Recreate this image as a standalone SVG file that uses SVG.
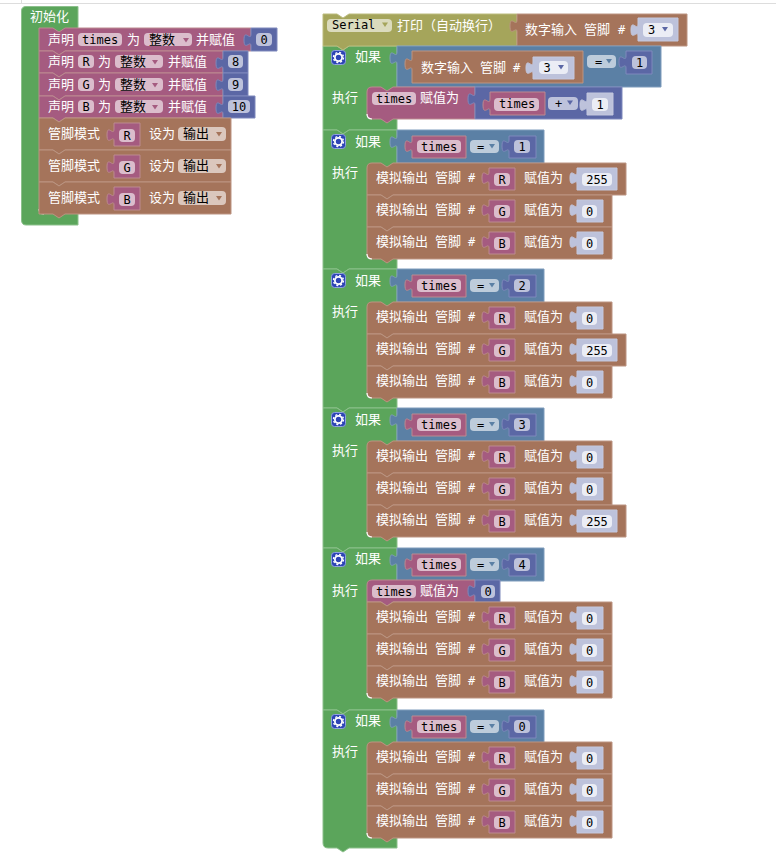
<svg xmlns="http://www.w3.org/2000/svg" width="776" height="868" viewBox="0 0 776 868">
<style>
text{font-family:"Noto Sans CJK SC","Liberation Sans",sans-serif;font-size:13px;fill:#fff}
.m{font-family:"DejaVu Sans Mono","Liberation Mono",monospace;font-size:12px}
.k{fill:#000}
.c{text-anchor:middle}
.gr{fill:#5BA55B;stroke:#8CC08C;stroke-width:1}
.br{fill:#A5745B;stroke:#BC9482;stroke-width:1}
.mg{fill:#A55B80;stroke:#BC8A90;stroke-width:1}
.in{fill:#5B67A5;stroke:#7F89BC;stroke-width:1}
.bl{fill:#5B80A5;stroke:#7F9CBC;stroke-width:1}
.ol{fill:#A5A55B;stroke:#BCBC7F;stroke-width:1}
.pa{fill:#BDC2DB;stroke:#C4C8DE;stroke-width:1}
.fm{fill:#DBBDCC}.fb{fill:#DBC7BD}.fi{fill:#BDC2DB}.fl{fill:#BDCCDB}.fo{fill:#DBDBBD}.fw{fill:#EBEDF5}
.ab{fill:#A5745B}.am{fill:#A55B80}.ai{fill:#5B67A5}.al{fill:#5B80A5}.ao{fill:#A5A55B}
.hl{fill:none;stroke:#fff;stroke-width:1.2}
</style>
<defs>
<path id="aw" class="br" d="M0,0H14L20,4L26,0H245V32H26L20,36L14,32H0Z"/>
<path id="awW" class="br" d="M0,0H14L20,4L26,0H259V32H26L20,36L14,32H0Z"/>
<path id="awF" class="br" d="M0,5Q0,0 5,0H14L20,4L26,0H245V32H26L20,36L14,32H0Z"/>
<path id="awFW" class="br" d="M0,5Q0,0 5,0H14L20,4L26,0H259V32H26L20,36L14,32H0Z"/>
<g id="awL"><path class="br" d="M0,0H14L20,4L26,0H245V32H26L20,36L14,32H5Q0,32 0,27Z"/><path class="hl" d="M0,27Q0,32 5,32"/></g>
<g id="awLW"><path class="br" d="M0,0H14L20,4L26,0H259V32H26L20,36L14,32H5Q0,32 0,27Z"/><path class="hl" d="M0,27Q0,32 5,32"/></g>
<g id="pin"><path class="mg" d="M122,5H148V27H122V21c0,-7 -7,6 -7,-6s7,2 7,-6Z"/><rect class="fm" x="127" y="10" width="16" height="13" rx="4"/></g>
<g id="val"><path class="pa" d="M210,5H236V27H210V21c0,-7 -7,6 -7,-6s7,2 7,-6Z"/><rect class="fw" x="215" y="10" width="15" height="13" rx="4"/></g>
<g id="val255"><path class="pa" d="M210,5H250V27H210V21c0,-7 -7,6 -7,-6s7,2 7,-6Z"/><rect class="fw" x="215" y="10" width="30" height="13" rx="4"/></g>
<g id="mode"><path class="br" d="M0,0H14L20,4L26,0H192V32H26L20,36L14,32H0Z"/><path class="mg" d="M75,5H101V28H75V23c0,-7 -7,6 -7,-6s7,2 7,-6Z"/><rect class="fm" x="80" y="11" width="16" height="13" rx="4"/><rect class="fb" x="139" y="9" width="48" height="14" rx="4"/><polygon class="ab" points="177,14 183,14 180,18.500"/></g>
<g id="cond"><path class="bl" d="M0,0H147V33H0V18c0,-7 -7,6 -7,-6s7,2 7,-6Z"/><path class="mg" d="M15,6H69V28H15V22c0,-7 -7,6 -7,-6s7,2 7,-6Z"/><rect class="fm" x="20" y="10" width="44" height="13" rx="4"/><rect class="fl" x="73" y="10" width="29" height="13" rx="4"/><polygon class="al" points="92,14 98,14 95,18.500"/><path class="in" d="M112,6H139V28H112V22c0,-7 -7,6 -7,-6s7,2 7,-6Z"/><rect class="fi" x="117" y="10" width="16" height="13" rx="4"/></g>
<g id="gear"><rect x="0.500" y="0.500" width="14" height="14" rx="3" fill="#2D44B5" stroke="#8FA0DD"/><circle cx="7.500" cy="7.500" r="3.600" fill="none" stroke="#fff" stroke-width="1.800"/><circle cx="7.500" cy="7.500" r="5" fill="none" stroke="#fff" stroke-width="1.400" stroke-dasharray="2 1.930"/></g>
</defs>

<g id="page-edge"><path d="M0,3.500H776M21.500,0V3" fill="none" stroke="#DDD"/></g>

<g id="connectors"></g>

<g id="setup">
<path class="gr" d="M26,6.500H78V225H26Q21.500,225 21.500,220V11Q21.500,6.500 26,6.500Z"/>
<text x="30" y="21">初始化</text>
<path class="hl" d="M39,209Q39,214 44,214"/>
</g>
<g id="decl-times">
<path class="mg" d="M39,28H53L59,32L65,28H251V51H65L59,55L53,51H39Z"/>
<text x="48" y="44">声明</text><rect class="fm" x="78" y="33" width="44" height="13" rx="4"/><text class="m k" x="82" y="44">times</text>
<text x="127" y="44">为</text><rect class="fm" x="144" y="33" width="48" height="13" rx="4"/><text class="k" x="149" y="44">整数</text><polygon class="am" points="183,38 189,38 186,42.500"/>
<text x="196" y="44">并赋值</text>
<path class="in" d="M251,28H277V51H251V46c0,-7 -7,6 -7,-6s7,2 7,-6Z"/><rect class="fi" x="256" y="33" width="16" height="13" rx="4"/><text class="m k c" x="264" y="44">0</text>
</g>
<g id="decl-r">
<path class="mg" d="M39,51H53L59,55L65,51H223V73H65L59,77L53,73H39Z"/>
<text x="48" y="66">声明</text><rect class="fm" x="78" y="55" width="16" height="13" rx="4"/><text class="m k c" x="86" y="66">R</text>
<text x="98" y="66">为</text><rect class="fm" x="115" y="55" width="48" height="13" rx="4"/><text class="k" x="120" y="66">整数</text><polygon class="am" points="152,60 158,60 155,64.500"/>
<text x="168" y="66">并赋值</text>
<path class="in" d="M223,51H248V73H223V69c0,-7 -7,6 -7,-6s7,2 7,-6Z"/><rect class="fi" x="228" y="55" width="15" height="13" rx="4"/><text class="m k c" x="235.500" y="66">8</text>
</g>
<g id="decl-g">
<path class="mg" d="M39,73H53L59,77L65,73H223V96H65L59,100L53,96H39Z"/>
<text x="48" y="89">声明</text><rect class="fm" x="78" y="78" width="16" height="13" rx="4"/><text class="m k c" x="86" y="89">G</text>
<text x="98" y="89">为</text><rect class="fm" x="115" y="78" width="48" height="13" rx="4"/><text class="k" x="120" y="89">整数</text><polygon class="am" points="152,83 158,83 155,87.500"/>
<text x="168" y="89">并赋值</text>
<path class="in" d="M223,73H248V96H223V91c0,-7 -7,6 -7,-6s7,2 7,-6Z"/><rect class="fi" x="228" y="78" width="15" height="13" rx="4"/><text class="m k c" x="235.500" y="89">9</text>
</g>
<g id="decl-b">
<path class="mg" d="M39,96H53L59,100L65,96H223V118H65L59,122L53,118H39Z"/>
<text x="48" y="111">声明</text><rect class="fm" x="78" y="100" width="16" height="13" rx="4"/><text class="m k c" x="86" y="111">B</text>
<text x="98" y="111">为</text><rect class="fm" x="115" y="100" width="48" height="13" rx="4"/><text class="k" x="120" y="111">整数</text><polygon class="am" points="152,105 158,105 155,109.500"/>
<text x="168" y="111">并赋值</text>
<path class="in" d="M223,96H255V118H223V114c0,-7 -7,6 -7,-6s7,2 7,-6Z"/><rect class="fi" x="228" y="100" width="22" height="13" rx="4"/><text class="m k c" x="239" y="111">10</text>
</g>
<g id="mode-r" transform="translate(39,118)"><use href="#mode"/><text x="9" y="20">管脚模式</text><text class="m k c" x="88" y="22">R</text><text x="110" y="20">设为</text><text class="k" x="144" y="20">输出</text></g>
<g id="mode-g" transform="translate(39,150)"><use href="#mode"/><text x="9" y="20">管脚模式</text><text class="m k c" x="88" y="22">G</text><text x="110" y="20">设为</text><text class="k" x="144" y="20">输出</text></g>
<g id="mode-b" transform="translate(39,182)"><use href="#mode"/><text x="9" y="20">管脚模式</text><text class="m k c" x="88" y="22">B</text><text x="110" y="20">设为</text><text class="k" x="144" y="20">输出</text></g>

<g id="if-1">
<path class="gr" d="M323,46H337L343,50L349,46H397V130H349L343,134L337,130H323Z"/>
<use href="#gear" x="331" y="50"/><text x="355" y="61">如果</text><text x="332" y="102">执行</text>
</g>
<g id="if-2">
<path class="gr" d="M323,130H337L343,134L349,130H397V269H349L343,273L337,269H323Z"/>
<use href="#gear" x="331" y="134"/><text x="355" y="146">如果</text><text x="332" y="177">执行</text>
</g>
<g id="if-3">
<path class="gr" d="M323,269H337L343,273L349,269H397V408H349L343,412L337,408H323Z"/>
<use href="#gear" x="331" y="273"/><text x="355" y="285">如果</text><text x="332" y="316">执行</text>
</g>
<g id="if-4">
<path class="gr" d="M323,408H337L343,412L349,408H397V548H349L343,552L337,548H323Z"/>
<use href="#gear" x="331" y="412"/><text x="355" y="424">如果</text><text x="332" y="455">执行</text>
</g>
<g id="if-5">
<path class="gr" d="M323,548H337L343,552L349,548H397V710H349L343,714L337,710H323Z"/>
<use href="#gear" x="331" y="552"/><text x="355" y="563">如果</text><text x="332" y="595">执行</text>
</g>
<g id="if-6">
<path class="gr" d="M323,710H337L343,714L349,710H397V848H349L343,852L337,848H328Q323,848 323,843Z"/>
<use href="#gear" x="331" y="714"/><text x="355" y="725">如果</text><text x="332" y="756">执行</text>
</g>

<g id="serial">
<path class="ol" d="M323,14H337L343,18L349,14H517V46H349L343,50L337,46H323Z"/>
<rect class="fo" x="327" y="19" width="65" height="13" rx="4"/><text class="m k" x="332" y="29">Serial</text><polygon class="ao" points="382,22.500 388,22.500 385,27"/>
<text x="397" y="30">打印（自动换行）</text>
<path class="br" d="M517,14H687V46H517V32c0,-7 -7,6 -7,-6s7,2 7,-6Z"/>
<text x="525" y="34">数字输入</text><text x="584" y="34">管脚</text><text class="m" x="618" y="34">#</text>
<path class="pa" d="M638,18H678V41H638V36c0,-7 -7,6 -7,-6s7,2 7,-6Z"/><rect class="fw" x="643" y="23" width="30" height="14" rx="4"/><text class="m k c" x="651.500" y="34">3</text><polygon class="ai" points="662,27 668,27 665,31.500"/>
</g>

<g id="cond-1">
<path class="bl" d="M397,46H661V87H397V64c0,-7 -7,6 -7,-6s7,2 7,-6Z"/>
<path class="br" d="M412,51H583V83H412V70c0,-7 -7,6 -7,-6s7,2 7,-6Z"/>
<text x="421" y="72">数字输入</text><text x="480" y="72">管脚</text><text class="m" x="513" y="72">#</text>
<path class="pa" d="M533,57H574V79H533V74c0,-7 -7,6 -7,-6s7,2 7,-6Z"/><rect class="fw" x="539" y="61" width="29" height="13" rx="4"/><text class="m k c" x="547" y="72">3</text><polygon class="ai" points="558,65 564,65 561,69.500"/>
<rect class="fl" x="587" y="55" width="29" height="13" rx="4"/><text class="m k" x="595" y="66">=</text><polygon class="al" points="606,59 612,59 609,63.500"/>
<path class="in" d="M626,51H652V74H626V68c0,-7 -7,6 -7,-6s7,2 7,-6Z"/><rect class="fi" x="632" y="56" width="15" height="13" rx="4"/><text class="m k c" x="639.500" y="67">1</text>
</g>
<g id="assign-1">
<path class="mg" d="M367,92Q367,87 372,87H381L387,91L393,87H475V119H393L387,123L381,119H372Q367,119 367,114Z"/><path class="hl" d="M367,114Q367,119 372,119"/>
<rect class="fm" x="372" y="92" width="44" height="13" rx="4"/><text class="m k" x="376" y="103">times</text><text x="420" y="102">赋值为</text>
<path class="in" d="M475,87H622V119H475V105c0,-7 -7,6 -7,-6s7,2 7,-6Z"/>
<path class="mg" d="M490,92H545V115H490V111c0,-7 -7,6 -7,-6s7,2 7,-6Z"/><rect class="fm" x="494" y="98" width="45" height="13" rx="4"/><text class="m k" x="499" y="108">times</text>
<rect class="fi" x="548" y="97" width="30" height="13" rx="4"/><text class="m k" x="555" y="108">+</text><polygon class="ai" points="567,100.500 573,100.500 570,105"/>
<path class="pa" d="M587,93H613V115H587V111c0,-7 -7,6 -7,-6s7,2 7,-6Z"/><rect class="fw" x="592" y="98" width="16" height="13" rx="4"/><text class="m k c" x="600" y="109">1</text>
</g>

<g id="cond-2" transform="translate(397,130)"><use href="#cond"/><text class="m k" x="24" y="21">times</text><text class="m k" x="80" y="21">=</text><text class="m k c" x="125" y="21">1</text></g>
<g id="w1r" transform="translate(367,163)"><use href="#awFW"/><text x="9" y="19">模拟输出</text><text x="68" y="19">管脚</text><text class="m" x="101" y="19">#</text><use href="#pin"/><text class="m k c" x="135" y="21">R</text><text x="157" y="19">赋值为</text><use href="#val255"/><text class="m k c" x="230" y="21">255</text></g>
<g id="w1g" transform="translate(367,195)"><use href="#aw"/><text x="9" y="19">模拟输出</text><text x="68" y="19">管脚</text><text class="m" x="101" y="19">#</text><use href="#pin"/><text class="m k c" x="135" y="21">G</text><text x="157" y="19">赋值为</text><use href="#val"/><text class="m k c" x="222.500" y="21">0</text></g>
<g id="w1b" transform="translate(367,227)"><use href="#awL"/><text x="9" y="19">模拟输出</text><text x="68" y="19">管脚</text><text class="m" x="101" y="19">#</text><use href="#pin"/><text class="m k c" x="135" y="21">B</text><text x="157" y="19">赋值为</text><use href="#val"/><text class="m k c" x="222.500" y="21">0</text></g>

<g id="cond-3" transform="translate(397,269)"><use href="#cond"/><text class="m k" x="24" y="21">times</text><text class="m k" x="80" y="21">=</text><text class="m k c" x="125" y="21">2</text></g>
<g id="w2r" transform="translate(367,302)"><use href="#awF"/><text x="9" y="19">模拟输出</text><text x="68" y="19">管脚</text><text class="m" x="101" y="19">#</text><use href="#pin"/><text class="m k c" x="135" y="21">R</text><text x="157" y="19">赋值为</text><use href="#val"/><text class="m k c" x="222.500" y="21">0</text></g>
<g id="w2g" transform="translate(367,334)"><use href="#awW"/><text x="9" y="19">模拟输出</text><text x="68" y="19">管脚</text><text class="m" x="101" y="19">#</text><use href="#pin"/><text class="m k c" x="135" y="21">G</text><text x="157" y="19">赋值为</text><use href="#val255"/><text class="m k c" x="230" y="21">255</text></g>
<g id="w2b" transform="translate(367,366)"><use href="#awL"/><text x="9" y="19">模拟输出</text><text x="68" y="19">管脚</text><text class="m" x="101" y="19">#</text><use href="#pin"/><text class="m k c" x="135" y="21">B</text><text x="157" y="19">赋值为</text><use href="#val"/><text class="m k c" x="222.500" y="21">0</text></g>

<g id="cond-4" transform="translate(397,408)"><use href="#cond"/><text class="m k" x="24" y="21">times</text><text class="m k" x="80" y="21">=</text><text class="m k c" x="125" y="21">3</text></g>
<g id="w3r" transform="translate(367,441)"><use href="#awF"/><text x="9" y="19">模拟输出</text><text x="68" y="19">管脚</text><text class="m" x="101" y="19">#</text><use href="#pin"/><text class="m k c" x="135" y="21">R</text><text x="157" y="19">赋值为</text><use href="#val"/><text class="m k c" x="222.500" y="21">0</text></g>
<g id="w3g" transform="translate(367,473)"><use href="#aw"/><text x="9" y="19">模拟输出</text><text x="68" y="19">管脚</text><text class="m" x="101" y="19">#</text><use href="#pin"/><text class="m k c" x="135" y="21">G</text><text x="157" y="19">赋值为</text><use href="#val"/><text class="m k c" x="222.500" y="21">0</text></g>
<g id="w3b" transform="translate(367,505)"><use href="#awLW"/><text x="9" y="19">模拟输出</text><text x="68" y="19">管脚</text><text class="m" x="101" y="19">#</text><use href="#pin"/><text class="m k c" x="135" y="21">B</text><text x="157" y="19">赋值为</text><use href="#val255"/><text class="m k c" x="230" y="21">255</text></g>

<g id="cond-5" transform="translate(397,548)"><use href="#cond"/><text class="m k" x="24" y="21">times</text><text class="m k" x="80" y="21">=</text><text class="m k c" x="125" y="21">4</text></g>
<g id="assign-2">
<path class="mg" d="M367,585Q367,580 372,580H475V602H393L387,606L381,602H367Z"/>
<rect class="fm" x="372" y="585" width="44" height="13" rx="4"/><text class="m k" x="376" y="596">times</text><text x="420" y="595">赋值为</text>
<path class="in" d="M475,580H500V602H475V597c0,-7 -7,6 -7,-6s7,2 7,-6Z"/><rect class="fi" x="481" y="585" width="14" height="13" rx="4"/><text class="m k c" x="488" y="596">0</text>
</g>
<g id="w4r" transform="translate(367,602)"><use href="#aw"/><text x="9" y="19">模拟输出</text><text x="68" y="19">管脚</text><text class="m" x="101" y="19">#</text><use href="#pin"/><text class="m k c" x="135" y="21">R</text><text x="157" y="19">赋值为</text><use href="#val"/><text class="m k c" x="222.500" y="21">0</text></g>
<g id="w4g" transform="translate(367,634)"><use href="#aw"/><text x="9" y="19">模拟输出</text><text x="68" y="19">管脚</text><text class="m" x="101" y="19">#</text><use href="#pin"/><text class="m k c" x="135" y="21">G</text><text x="157" y="19">赋值为</text><use href="#val"/><text class="m k c" x="222.500" y="21">0</text></g>
<g id="w4b" transform="translate(367,666)"><use href="#awL"/><text x="9" y="19">模拟输出</text><text x="68" y="19">管脚</text><text class="m" x="101" y="19">#</text><use href="#pin"/><text class="m k c" x="135" y="21">B</text><text x="157" y="19">赋值为</text><use href="#val"/><text class="m k c" x="222.500" y="21">0</text></g>

<g id="cond-6" transform="translate(397,710)"><use href="#cond"/><text class="m k" x="24" y="21">times</text><text class="m k" x="80" y="21">=</text><text class="m k c" x="125" y="21">0</text></g>
<g id="w5r" transform="translate(367,742)"><use href="#awF"/><text x="9" y="19">模拟输出</text><text x="68" y="19">管脚</text><text class="m" x="101" y="19">#</text><use href="#pin"/><text class="m k c" x="135" y="21">R</text><text x="157" y="19">赋值为</text><use href="#val"/><text class="m k c" x="222.500" y="21">0</text></g>
<g id="w5g" transform="translate(367,774)"><use href="#aw"/><text x="9" y="19">模拟输出</text><text x="68" y="19">管脚</text><text class="m" x="101" y="19">#</text><use href="#pin"/><text class="m k c" x="135" y="21">G</text><text x="157" y="19">赋值为</text><use href="#val"/><text class="m k c" x="222.500" y="21">0</text></g>
<g id="w5b" transform="translate(367,806)"><use href="#awL"/><text x="9" y="19">模拟输出</text><text x="68" y="19">管脚</text><text class="m" x="101" y="19">#</text><use href="#pin"/><text class="m k c" x="135" y="21">B</text><text x="157" y="19">赋值为</text><use href="#val"/><text class="m k c" x="222.500" y="21">0</text></g>
</svg>
